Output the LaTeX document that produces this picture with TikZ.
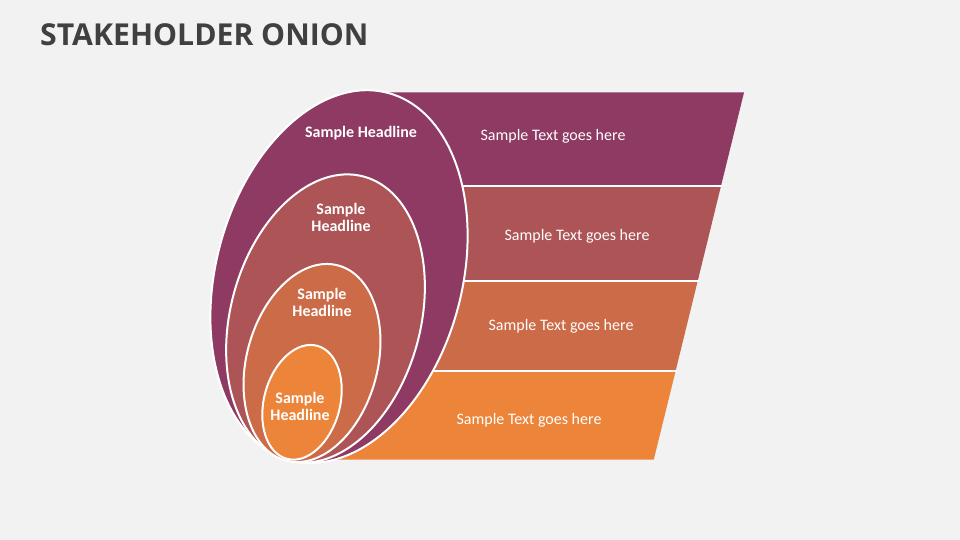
\documentclass[tikz,border=0pt]{standalone}
\usepackage{fontspec}
\setmainfont{Carlito}
\newfontfamily\titlefont{Open Sans}
\definecolor{bgc}{HTML}{F2F2F2}
\definecolor{titlec}{HTML}{404040}
\definecolor{cA}{HTML}{8E3A63}
\definecolor{cB}{HTML}{AD5457}
\definecolor{cC}{HTML}{CC6B47}
\definecolor{cD}{HTML}{EC843A}
\tikzset{
  onion/.style={draw=white, line width=2pt},
  head/.style={text=white, font=\bfseries\fontsize{16}{17}\selectfont, align=center, inner sep=0pt},
  btext/.style={text=white, font=\fontsize{16}{18}\selectfont, inner sep=0pt}
}
\begin{document}
\begin{tikzpicture}[x=1pt,y=-1pt]
\useasboundingbox[fill=bgc] (0,0) rectangle (960,540);
\node[anchor=base west, text=titlec, font=\titlefont\bfseries\fontsize{30.2}{34}\selectfont, inner sep=0pt] (title) at (40,46) {STAKEHOLDER ONION};
% bands: right edge x = 744 - 90*(y-92.5)/367 ; left edge hidden
\fill[cA] (386,92.5) -- (744,92.5) -- (721,186) -- (370,186) -- cycle;
\fill[cB] (370,186) -- (721,186) -- (697.7,281) -- (354,281) -- cycle;
\fill[cC] (354,281) -- (697.7,281) -- (675.6,371) -- (339,371) -- cycle;
\fill[cD] (339,371) -- (675.6,371) -- (653.8,459.5) -- (324,459.5) -- cycle;
\draw[white, line width=2pt] (360,186) -- (722,186);
\draw[white, line width=2pt] (345,281) -- (699,281);
\draw[white, line width=2pt] (330,371) -- (677,371);
% onion layers
\draw[onion, fill=cA, rotate around={-15:(339,276.5)}] (339,276.5) ellipse [x radius=123pt, y radius=190pt];
\draw[onion, fill=cB, rotate around={-15:(325.5,318.5)}] (325.5,318.5) ellipse [x radius=95pt, y radius=147pt];
\draw[onion, fill=cC, rotate around={-15:(312,363)}] (312,363) ellipse [x radius=65.5pt, y radius=101pt];
\draw[onion, fill=cD, rotate around={-15:(302,402.3)}] (302,402.3) ellipse [x radius=38pt, y radius=58.5pt];
% headlines
\node[head] (h1) at (361,133) {Sample Headline};
\node[head] (h2) at (341,217) {Sample\\Headline};
\node[head] (h3) at (322,302) {Sample\\Headline};
\node[head] (h4) at (300,406) {Sample\\Headline};
% band texts
\node[btext] (t1) at (553,136) {Sample Text goes here};
\node[btext] (t2) at (577,236) {Sample Text goes here};
\node[btext] (t3) at (561,326) {Sample Text goes here};
\node[btext] (t4) at (529,420) {Sample Text goes here};
\end{tikzpicture}
\end{document}
